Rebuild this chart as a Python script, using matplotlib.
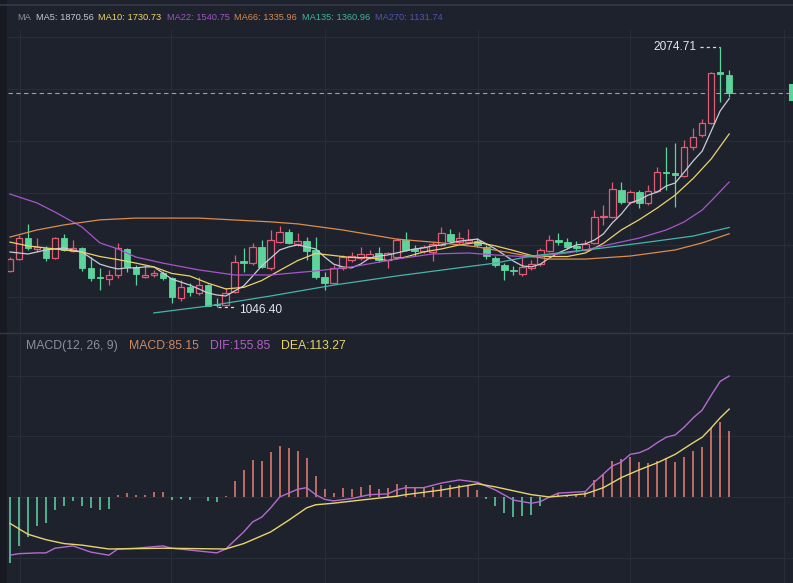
"""
Daily candlestick chart with moving averages and a MACD panel (dark theme).

Usage:
    python plot.py
"""

import matplotlib
matplotlib.use("Agg")
import matplotlib.pyplot as plt
from matplotlib import font_manager
from matplotlib.lines import Line2D
from matplotlib.patches import Rectangle

OUTPUT_PNG = "out.png"

BG = "#1e222d"
GRID = "#282d3a"
UP = "#e05c74"
DOWN = "#5cd49c"
HIST_UP = "#ea7f74"
HIST_DOWN = "#5ed8a8"
REGULAR = ["Liberation Sans", "DejaVu Sans"]

# ---- price data (one candle per session) ----
OPEN = [1189, 1236, 1319, 1276, 1280, 1240, 1319, 1268, 1280, 1201,
        1165, 1157, 1173, 1276, 1205, 1165, 1173, 1181, 1161, 1082,
        1126, 1102, 1133, 1058, 1054, 1106, 1228, 1220, 1284, 1201,
        1303, 1343, 1296, 1307, 1272, 1165, 1141, 1201, 1232, 1240,
        1240, 1260, 1232, 1244, 1311, 1276, 1268, 1264, 1292, 1335,
        1303, 1303, 1307, 1284, 1240, 1212, 1193, 1177, 1201, 1216,
        1268, 1311, 1303, 1288, 1272, 1300, 1402, 1402, 1509, 1462,
        1501, 1458, 1505, 1580, 1576, 1565, 1679, 1727, 1774, 1976,
        1964]
HIGH = [1244, 1331, 1375, 1319, 1288, 1323, 1335, 1311, 1284, 1244,
        1201, 1193, 1300, 1280, 1212, 1212, 1193, 1189, 1165, 1153,
        1141, 1165, 1137, 1082, 1122, 1252, 1280, 1300, 1311, 1351,
        1367, 1355, 1339, 1323, 1323, 1185, 1212, 1252, 1264, 1284,
        1272, 1284, 1264, 1319, 1343, 1292, 1292, 1303, 1363, 1355,
        1343, 1355, 1319, 1292, 1248, 1220, 1209, 1240, 1232, 1280,
        1331, 1339, 1319, 1307, 1311, 1430, 1450, 1541, 1541, 1509,
        1509, 1529, 1600, 1679, 1695, 1707, 1754, 1790, 1976, 2074.71,
        1984]
LOW = [1185, 1232, 1272, 1264, 1228, 1236, 1268, 1264, 1189, 1149,
       1114, 1133, 1161, 1185, 1133, 1161, 1165, 1153, 1062, 1070,
       1090, 1094, 1049, 1046.40, 1050, 1102, 1185, 1212, 1201, 1193,
       1300, 1296, 1288, 1232, 1157, 1114, 1137, 1193, 1224, 1232,
       1236, 1224, 1201, 1240, 1268, 1248, 1260, 1228, 1288, 1303,
       1296, 1300, 1284, 1236, 1205, 1153, 1173, 1169, 1193, 1209,
       1264, 1292, 1276, 1264, 1268, 1296, 1371, 1398, 1454, 1454,
       1438, 1450, 1501, 1509, 1442, 1561, 1667, 1719, 1770, 1857,
       1877]
CLOSE = [1236, 1319, 1280, 1284, 1240, 1319, 1272, 1280, 1201, 1161,
         1161, 1173, 1280, 1205, 1177, 1173, 1181, 1161, 1086, 1126,
         1106, 1133, 1052, 1054, 1102, 1224, 1220, 1284, 1205, 1311,
         1343, 1300, 1307, 1268, 1165, 1141, 1201, 1244, 1248, 1256,
         1256, 1232, 1260, 1311, 1272, 1268, 1284, 1296, 1339, 1307,
         1319, 1311, 1292, 1248, 1212, 1193, 1189, 1205, 1216, 1272,
         1311, 1303, 1284, 1280, 1296, 1402, 1406, 1513, 1462, 1501,
         1458, 1505, 1580, 1576, 1568, 1679, 1719, 1774, 1972, 1968,
         1893]

# ---- moving averages ----
MA5 = [1264, 1260, 1256, 1264, 1272, 1276, 1280, 1272, 1264, 1240,
       1216, 1205, 1197, 1201, 1201, 1205, 1205, 1181, 1157, 1145,
       1133, 1118, 1102, 1094, 1090, 1110, 1130, 1169, 1209, 1240,
       1272, 1284, 1292, 1284, 1276, 1244, 1216, 1205, 1201, 1216,
       1240, 1248, 1252, 1260, 1268, 1276, 1280, 1288, 1292, 1300,
       1307, 1311, 1315, 1296, 1276, 1252, 1228, 1209, 1205, 1216,
       1240, 1260, 1276, 1292, 1296, 1311, 1335, 1379, 1414, 1458,
       1470, 1489, 1501, 1525, 1537, 1580, 1624, 1663, 1742, 1822,
       1870.56]
MA10_IDX = list(range(0, 81, 2))
MA10 = [1303, 1288, 1280, 1272, 1264, 1246, 1234, 1220, 1205, 1179,
        1169, 1141, 1118, 1124, 1151, 1191, 1230, 1258, 1250, 1242,
        1242, 1230, 1244, 1264, 1276, 1292, 1302, 1288, 1270, 1250,
        1246, 1246, 1260, 1298, 1351, 1392, 1438, 1489, 1555, 1632,
        1730.73]
MA22_IDX = [0, 3, 5, 8, 10, 12, 14, 17, 21, 25, 29, 34, 38, 43, 47, 51,
            54, 58, 62, 64, 67, 70, 73, 75, 77, 78, 80]
MA22 = [1493, 1458, 1422, 1363, 1300, 1276, 1244, 1220, 1193, 1173, 1173,
        1189, 1205, 1236, 1256, 1260, 1252, 1244, 1260, 1272, 1296, 1319,
        1351, 1383, 1430, 1466, 1540.75]
MA66_IDX = [0, 3, 6, 10, 14, 21, 29, 32, 37, 43, 48, 52, 57, 60, 64, 69,
            74, 77, 80]
MA66 = [1323, 1351, 1371, 1391, 1398, 1398, 1383, 1375, 1351, 1315, 1300,
        1284, 1252, 1236, 1236, 1248, 1272, 1300, 1335.96]
MA135_IDX = [16, 22, 29, 36, 43, 49, 54, 58, 62, 66, 71, 76, 80]
MA135 = [1023, 1050, 1090, 1133, 1169, 1197, 1220, 1248, 1264, 1280, 1303,
         1327, 1360.96]
MA270_LAST = 1131.74

# ---- MACD(12, 26, 9) ----
MACD_HIST = [-85, -63, -51, -38, -33, -17, -12, -5, -11, -14, -17, -15,
             2, 5, 3, 3, 6, 6, -4, -3, -4, 0, -5, -7,
             1, 21, 35, 48, 47, 58, 66, 63, 59, 50, 27, 10,
             5, 11, 10, 13, 15, 10, 11, 17, 16, 12, 12, 13,
             16, 16, 15, 15, 9, -3, -12, -21, -26, -25, -23, -12,
             0, 5, 3, 4, 7, 22, 29, 46, 49, 52, 45, 44,
             47, 50, 45, 52, 59, 65, 89, 96, 85.15]
DIF_IDX = [0, 1, 3, 4, 5, 7, 9, 11, 12, 14, 17, 18, 23, 24, 25, 26, 27, 28,
           29, 30, 31, 32, 33, 34, 35, 36, 38, 40, 42, 43, 44, 46, 48, 50,
           52, 54, 56, 58, 59, 60, 61, 64, 65, 67, 68, 69, 70, 71, 72, 73,
           74, 75, 76, 77, 78, 79, 80]
DIF = [-75, -73, -72, -72, -66, -63, -71, -75, -67, -66, -63, -66, -72, -67,
       -56, -45, -32, -26, -14, 0, 5, 10, 12, 3, -3, -5, -2, 3, 4, 9, 12, 12,
       18, 22, 19, 9, -4, -8, -6, 0, 5, 7, 19, 40, 45, 55, 57, 62, 70, 77,
       80, 90, 102, 112, 131, 149, 155.85]
DEA_IDX = [0, 2, 4, 6, 8, 11, 17, 24, 26, 29, 31, 33, 34, 36, 39, 43, 44,
           48, 52, 54, 58, 60, 64, 66, 68, 70, 72, 74, 76, 77, 78, 79, 80]
DEA = [-34, -48, -55, -60, -62, -67, -66, -67, -60, -45, -30, -14, -10, -8,
       -4, 1, 3, 9, 17, 13, 3, 0, 4, 12, 25, 35, 44, 55, 70, 77, 89, 102,
       113.27]

W, H = 793, 583  # output size in pixels


def fx(px):
    return px / W


def fy(py):
    return 1 - py / H


def _header_font():
    # the header row uses a condensed face; fall back to a smaller regular one
    names = {f.name for f in font_manager.fontManager.ttflist}
    if "Liberation Sans Narrow" in names:
        return ["Liberation Sans Narrow"], 7.6, 6.5
    return REGULAR, 6.7, 5.0


def _style_axes(ax):
    ax.set_facecolor(BG)
    for s in ax.spines.values():
        s.set_visible(False)
    ax.set_xticks([])
    ax.set_yticks([])


def _vgrid(ax):
    for gx in [1.1, 17.9, 35.0, 52.1, 69.0, 86.1]:
        ax.axvline(gx, color=GRID, lw=0.8, zorder=0)


def draw_price(ax):
    n = len(CLOSE)
    xs = list(range(n))
    _style_axes(ax)
    _vgrid(ax)
    for gy in [2114, 1909, 1703, 1497, 1292, 1086]:
        ax.axhline(gy, color=GRID, lw=0.8, zorder=0)

    up = [i for i in xs if CLOSE[i] >= OPEN[i]]
    dn = [i for i in xs if CLOSE[i] < OPEN[i]]
    for idx, col in ((up, UP), (dn, DOWN)):
        ax.vlines(idx, [LOW[i] for i in idx], [HIGH[i] for i in idx],
                  color=col, lw=0.9, zorder=2)
    body_w = 0.72
    ax.bar(up, [max(CLOSE[i] - OPEN[i], 3) for i in up],
           bottom=[OPEN[i] for i in up], width=body_w,
           facecolor=BG, edgecolor=UP, linewidth=0.9, zorder=3)
    ax.bar(dn, [max(OPEN[i] - CLOSE[i], 3) for i in dn],
           bottom=[CLOSE[i] for i in dn], width=body_w,
           facecolor=DOWN, edgecolor=DOWN, linewidth=0.6, zorder=3)

    ax.plot(xs, MA5, color="#c9cdd8", lw=0.9, zorder=4)
    ax.plot(MA10_IDX, MA10, color="#ecd26a", lw=0.9, zorder=4)
    ax.plot(MA22_IDX, MA22, color="#a755cc", lw=0.9, zorder=4)
    ax.plot(MA66_IDX, MA66, color="#de8c4c", lw=0.9, zorder=4)
    ax.plot(MA135_IDX, MA135, color="#46b4ac", lw=0.9, zorder=4)

    # last price line
    ax.axhline(CLOSE[-1], color="#8fa6a6", lw=0.8, ls=(0, (4, 3)), zorder=1)

    # high / low markers
    hi = HIGH.index(max(HIGH))
    lo = LOW.index(min(LOW))
    ax.plot([hi - 2.3, hi], [HIGH[hi], HIGH[hi]], color="#d8dce4",
            lw=0.9, ls=(0, (2.5, 2.5)), zorder=5)
    ax.text(hi - 2.6, HIGH[hi], f"{HIGH[hi]:.2f}", ha="right", va="center",
            color="#e2e5ec", fontsize=8.6, family=REGULAR)
    ax.plot([lo + 0.1, lo + 2.1], [LOW[lo], LOW[lo]], color="#d8dce4",
            lw=0.9, ls=(0, (2.5, 2.5)), zorder=5)
    ax.text(lo + 2.5, LOW[lo] - 10, f"{LOW[lo]:.2f}", ha="left",
            va="center", color="#e2e5ec", fontsize=8.6, family=REGULAR)

    ax.set_xlim(-0.22, 87.1)
    ax.set_ylim(947.5, 2141.9)


def draw_macd(ax):
    _style_axes(ax)
    _vgrid(ax)
    for gy in [155.8, 78.0, 0.0, -78.0]:
        ax.axhline(gy, color=GRID, lw=0.8, zorder=0)
    xs = list(range(len(MACD_HIST)))
    pos = [i for i in xs if MACD_HIST[i] > 0]
    neg = [i for i in xs if MACD_HIST[i] < 0]
    ax.vlines(pos, 0, [MACD_HIST[i] for i in pos], color=HIST_UP, lw=1.1,
              zorder=2)
    ax.vlines(neg, 0, [MACD_HIST[i] for i in neg], color=HIST_DOWN, lw=1.1,
              zorder=2)
    ax.plot(DIF_IDX, DIF, color="#b56ad2", lw=1.0, zorder=3)
    ax.plot(DEA_IDX, DEA, color="#e6d56c", lw=1.0, zorder=3)
    ax.set_xlim(-0.22, 87.1)
    ax.set_ylim(-110.8, 208.7)


def _text_row(fig, items, x0, y, family, size, gap):
    renderer = fig.canvas.get_renderer()
    px = x0
    for txt, col in items:
        t = fig.text(fx(px), fy(y), txt, color=col, fontsize=size,
                     family=family, va="center", ha="left")
        px += t.get_window_extent(renderer).width + gap


def draw_labels(fig):
    family, size, gap = _header_font()
    ma_items = [
        ("MA", "#8a90a0"),
        (f"MA5: {MA5[-1]:.2f}", "#c5c9d3"),
        (f"MA10: {MA10[-1]:.2f}", "#f0d46a"),
        (f"MA22: {MA22[-1]:.2f}", "#a052c4"),
        (f"MA66: {MA66[-1]:.2f}", "#d8874f"),
        (f"MA135: {MA135[-1]:.2f}", "#41b3a3"),
        (f"MA270: {MA270_LAST:.2f}", "#4e54b6"),
    ]
    _text_row(fig, ma_items, 17, 18, family, size, gap)

    macd_items = [
        ("MACD(12, 26, 9)", "#8a90a0"),
        (f"MACD:{MACD_HIST[-1]:.2f}", "#c98a64"),
        (f"DIF:{DIF[-1]:.2f}", "#b060c4"),
        (f"DEA:{DEA[-1]:.2f}", "#e8d36c"),
    ]
    _text_row(fig, macd_items, 26, 346, REGULAR, 8.8, 11)


def main():
    fig = plt.figure(figsize=(W / 100, H / 100), dpi=100, facecolor=BG)

    ax_p = fig.add_axes([fx(8), fy(332), fx(785), 302 / H])
    ax_m = fig.add_axes([fx(8), 0, fx(785), 248 / H])
    draw_price(ax_p)
    draw_macd(ax_m)

    # frame: left strip, top border, panel separator, price tag stub
    fig.patches.append(Rectangle((0, 0), fx(7), 1, transform=fig.transFigure,
                                 facecolor="#171a22", edgecolor="none"))
    fig.lines.append(Line2D([0, 1], [fy(5), fy(5)], transform=fig.transFigure,
                            color="#353a48", lw=1.2))
    fig.lines.append(Line2D([0, 1], [fy(333), fy(333)],
                            transform=fig.transFigure, color="#333846",
                            lw=1.0))
    fig.patches.append(Rectangle((fx(789), fy(101)), fx(4), 17 / H,
                                 transform=fig.transFigure,
                                 facecolor=DOWN, edgecolor="none"))

    draw_labels(fig)
    fig.savefig(OUTPUT_PNG, dpi=100, facecolor=BG)
    plt.close(fig)


if __name__ == "__main__":
    main()
